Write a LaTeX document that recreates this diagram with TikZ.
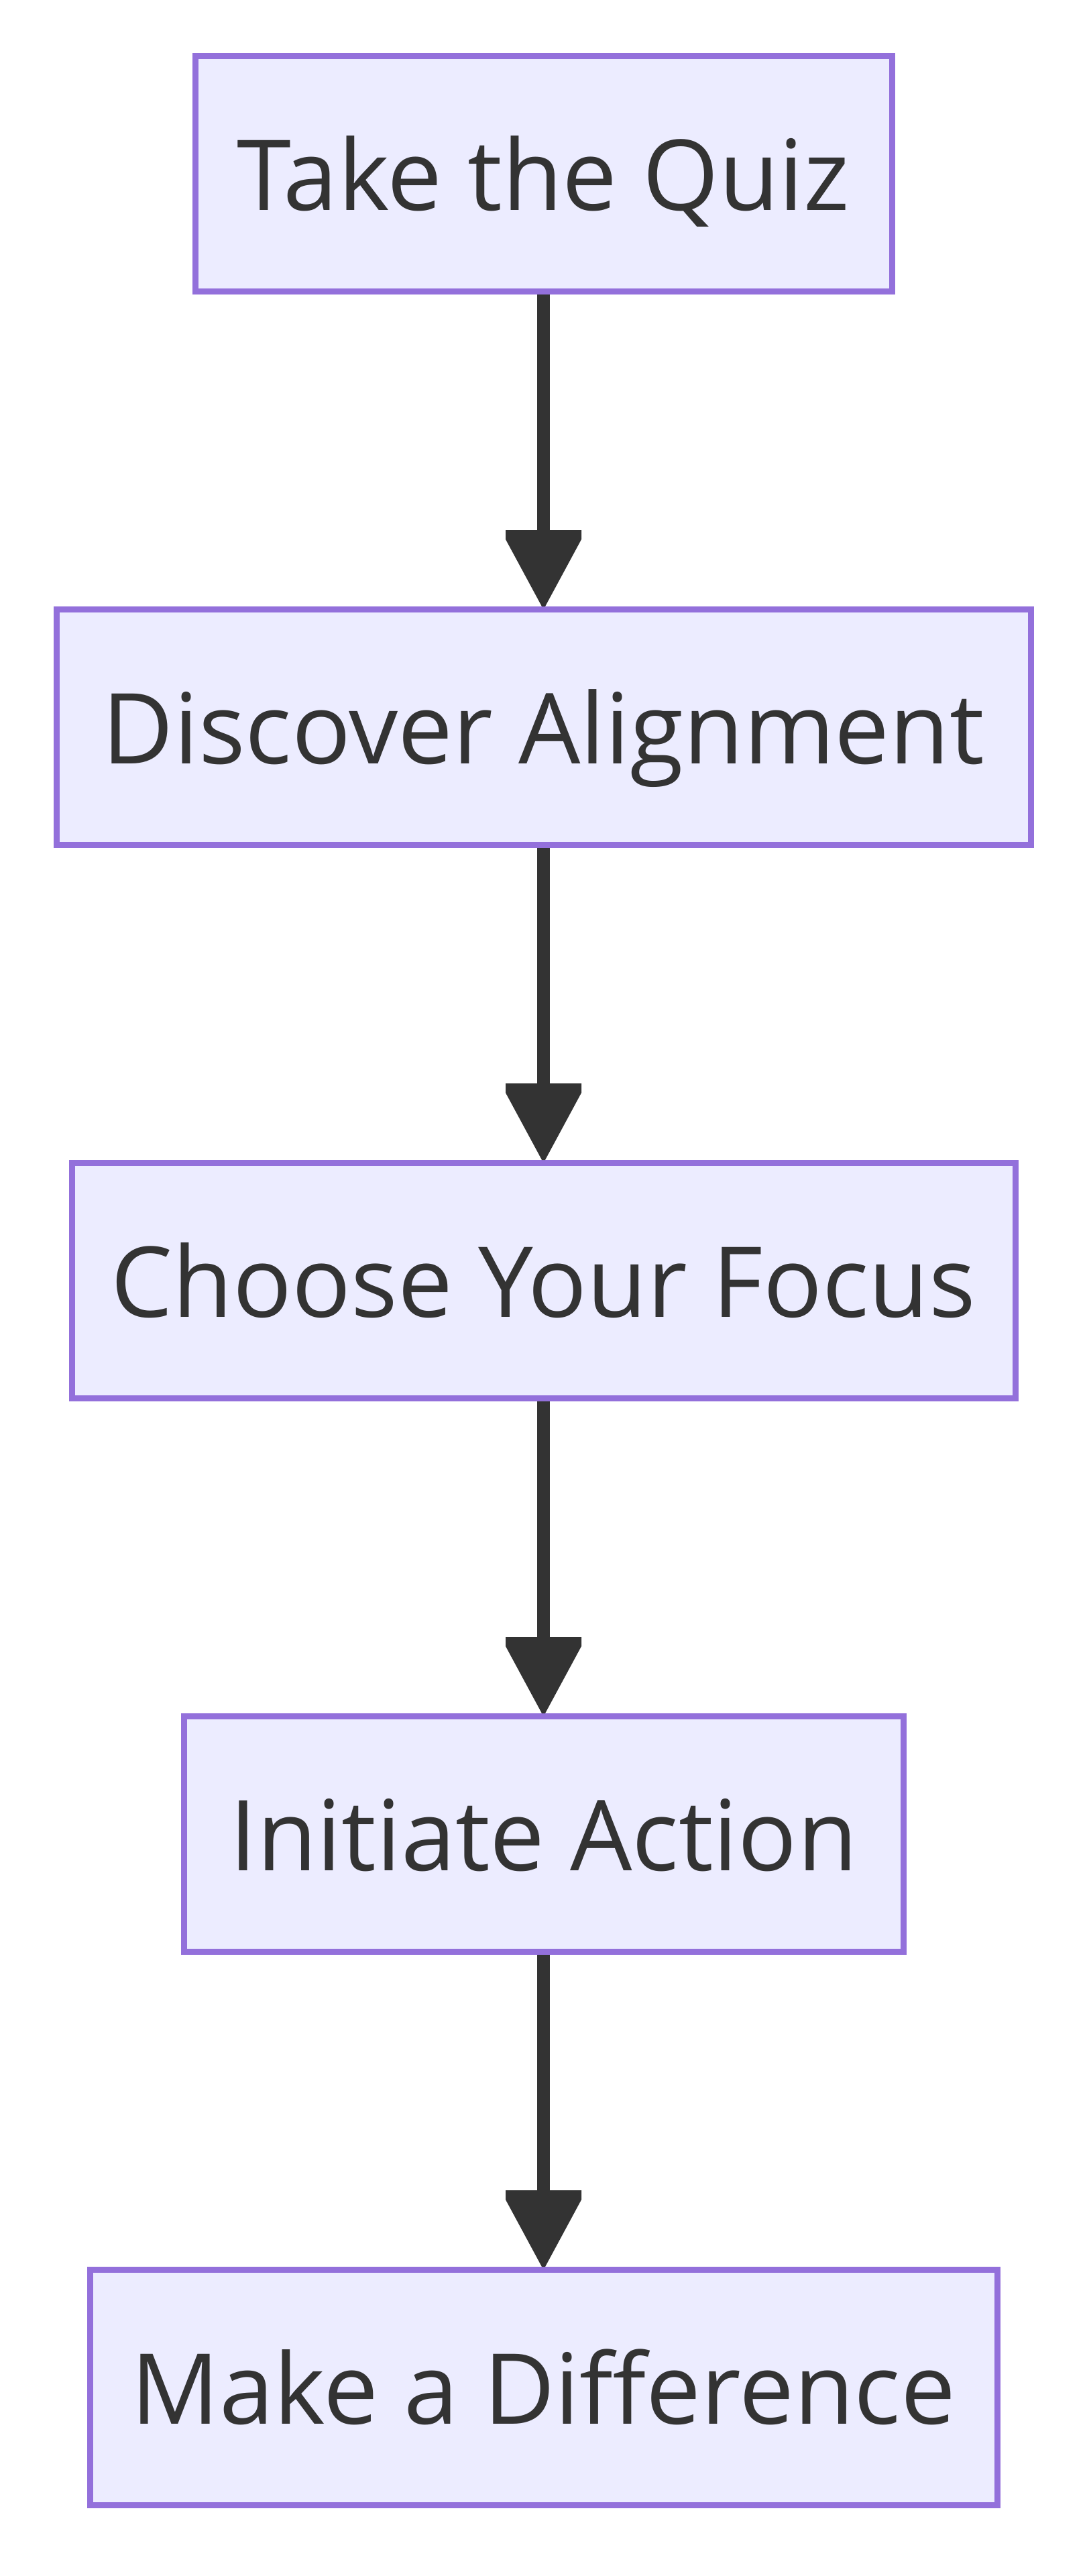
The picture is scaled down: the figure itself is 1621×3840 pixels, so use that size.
\documentclass[tikz,border=0pt]{standalone}
\usepackage{fontspec}
\setmainfont{Open Sans}
\usetikzlibrary{calc}
\definecolor{boxfill}{HTML}{ECECFF}
\definecolor{boxline}{HTML}{9370DB}
\definecolor{ink}{HTML}{333333}
\tikzset{
  stepbox/.style={draw=boxline, fill=boxfill, line width=9pt, inner sep=0pt, outer sep=0pt,
    minimum height=351pt, text=ink, text height=109pt, text depth=0pt,
    font=\fontsize{146}{176}\selectfont},
  shaft/.style={draw=ink, line width=19pt},
  headfill/.style={fill=ink}
}
\newcommand{\flowarrow}[2]{%
  \draw[shaft] ([yshift=-4.5pt]#1.south) -- ([yshift=116pt]#2.north);
  \fill[headfill] ([yshift=4.5pt]#2.north) ++(-2.5pt,0) -- ++(-54pt,100pt) -- ++(0,14pt) -- ++(113pt,0) -- ++(0,-14pt) -- ++(-54pt,-100pt) -- cycle;
}
\begin{document}
\begin{tikzpicture}[x=1pt,y=-1pt]
\useasboundingbox (0,0) rectangle (1621,3840);
\node[stepbox, minimum width=1039pt] (a) at (810.5,259) {Take the Quiz};
\node[stepbox, minimum width=1453pt] (b) at (810.5,1084) {Discover Alignment};
\node[stepbox, minimum width=1407pt] (c) at (810.5,1909) {Choose Your Focus};
\node[stepbox, minimum width=1073pt] (d) at (810.5,2734) {Initiate Action};
\node[stepbox, minimum width=1353pt] (e) at (810.5,3559) {Make a Difference};
\flowarrow{a}{b}
\flowarrow{b}{c}
\flowarrow{c}{d}
\flowarrow{d}{e}
\end{tikzpicture}
\end{document}
